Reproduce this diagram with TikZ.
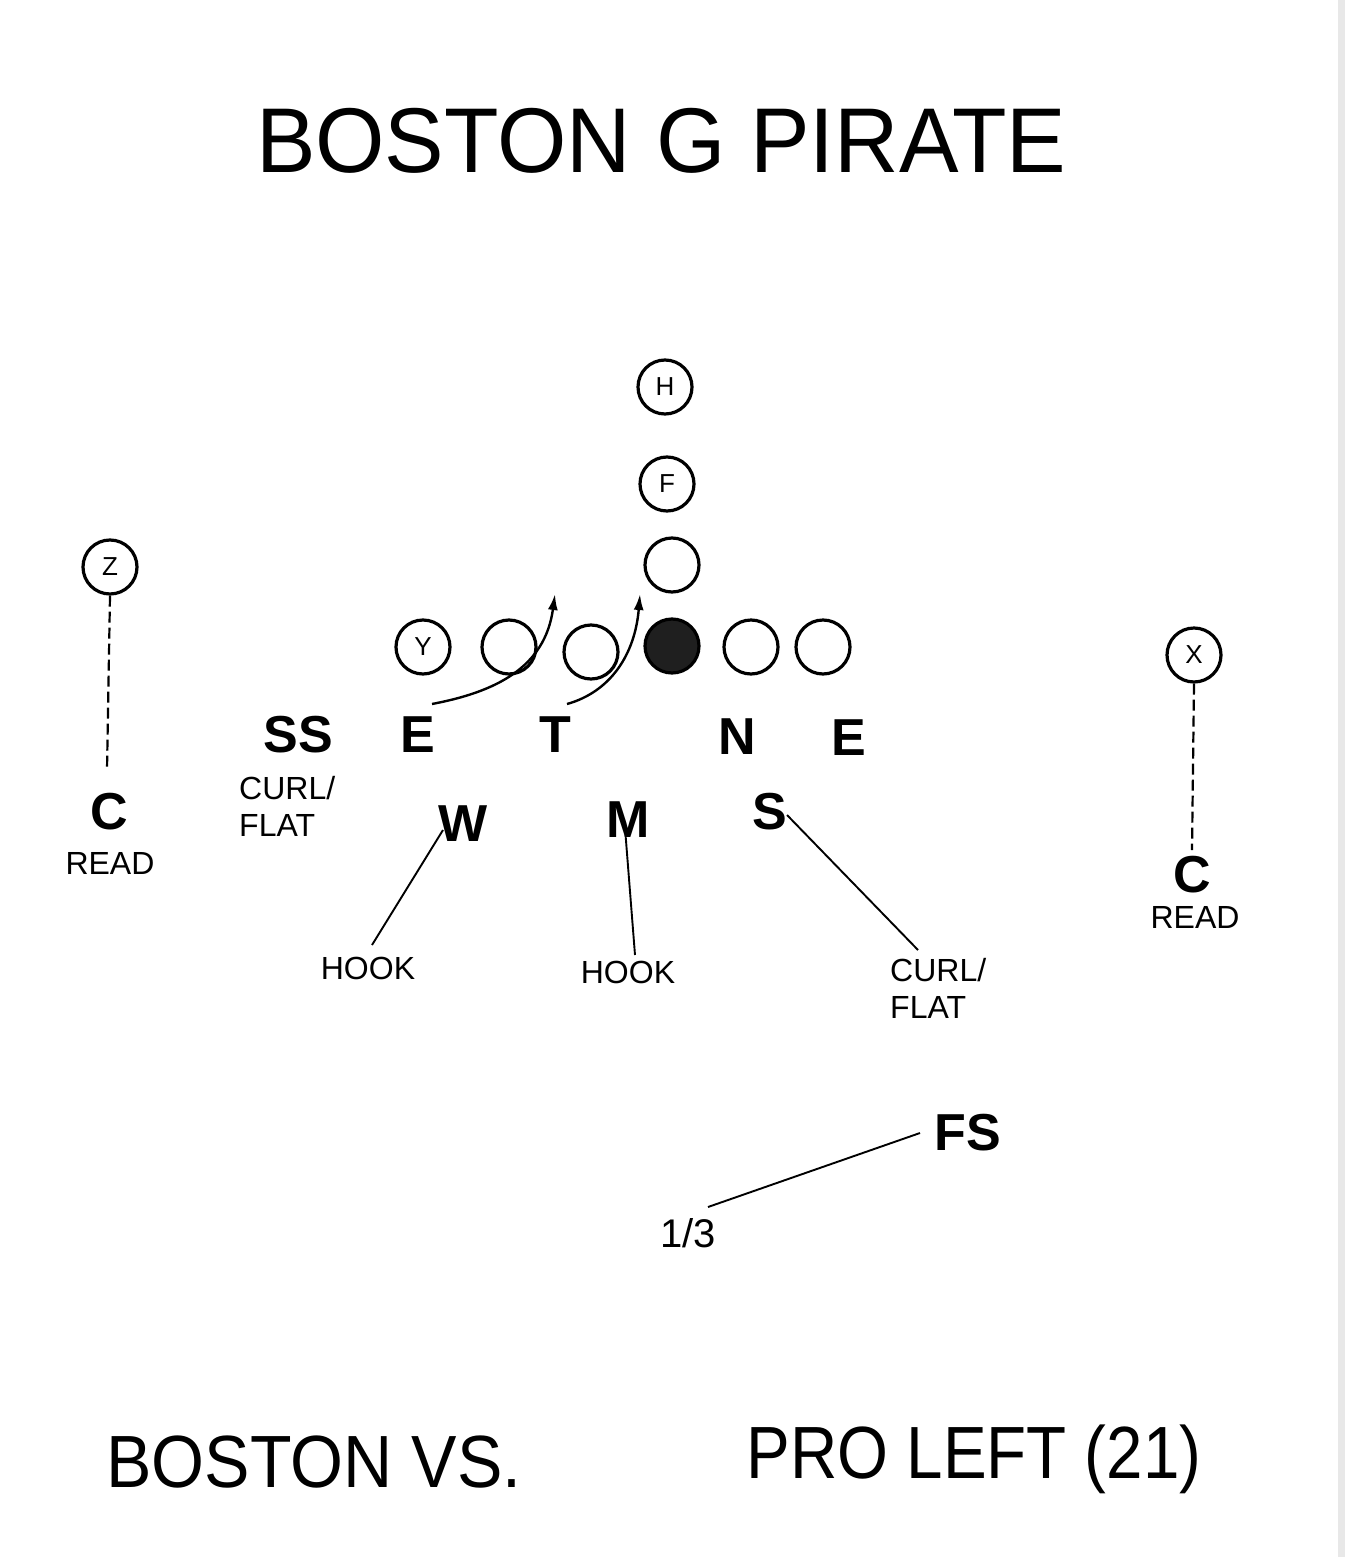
\documentclass[tikz,border=0pt]{standalone}
\usepackage{graphicx}
\usepackage{fontspec}
\setmainfont{Liberation Sans}
\usetikzlibrary{arrows.meta}
\begin{document}
\begin{tikzpicture}[x=1pt,y=-1pt,
 player/.style={circle,draw,line width=3.2pt,minimum size=54pt,inner sep=0pt,font=\fontsize{26}{26}\selectfont},
 defl/.style={inner sep=0pt,font=\fontsize{52}{52}\selectfont\bfseries},
 lbl/.style={inner sep=0pt,font=\fontsize{32}{37}\selectfont},
 big/.style={inner sep=0pt},
 conn/.style={line width=1.9pt},
 route/.style={line width=2.4pt,-{Latex[length=16pt,width=10pt]}},
 readline/.style={line width=2.2pt,dash pattern=on 11pt off 5pt}]
\useasboundingbox (0,0) rectangle (1345,1557);
\fill[white] (0,0) rectangle (1345,1557);
\fill[gray!18] (1338,0) rectangle (1345,1557);

% title
\node[big] (title) at (661,141) {\scalebox{0.97}[1]{\fontsize{92}{92}\selectfont BOSTON G PIRATE}};

% offense
\node[player] (H) at (665,387) {H};
\node[player] (F) at (667,484) {F};
\node[player] (Q) at (672,565) {};
\node[player] (Y) at (423,647) {Y};
\node[player] (L1) at (509,647) {};
\node[player] (L2) at (591,652) {};
\node[player,fill=black!88] (Cn) at (672,646) {};
\node[player] (R1) at (751,647) {};
\node[player] (R2) at (823,647) {};
\node[player] (Z) at (110,567) {Z};
\node[player] (X) at (1194,655) {X};

% defense
\node[defl] (SS) at (298,735) {SS};
\node[defl] (E1) at (418,735) {E};
\node[defl] (T) at (555,735) {T};
\node[defl] (N) at (737,737) {N};
\node[defl] (E2) at (849,738) {E};
\node[defl] (W) at (463,824) {W};
\node[defl] (M) at (628,820) {M};
\node[defl] (S) at (770,812) {S};
\node[defl] (CL) at (109,812) {C};
\node[defl] (CR) at (1192,875) {C};
\node[defl] (FS) at (968,1133) {FS};

% labels
\node[lbl,align=left,anchor=north west] (cfL) at (239,776) {CURL/\\FLAT};
\node[lbl] (readL) at (110,863) {READ};
\node[lbl] (readR) at (1195,917) {READ};
\node[lbl] (hook1) at (368,968) {HOOK};
\node[lbl] (hook2) at (628,972) {HOOK};
\node[lbl,align=left,anchor=north west] (cfR) at (890,958) {CURL/\\FLAT};
\node[inner sep=0pt,font=\fontsize{40}{40}\selectfont] (third) at (688,1233) {1/3};

% bottom
\node[big] (bv) at (314,1462) {\scalebox{0.92}[1]{\fontsize{74}{74}\selectfont BOSTON VS.}};
\node[big] (pl) at (974,1459) {\scalebox{0.885}[1]{\fontsize{74}{74}\selectfont PRO LEFT (21)}};

% routes
\coordinate (a1s) at (432,704);
\coordinate (a1e) at (555,594);
\coordinate (a2s) at (567,704);
\coordinate (a2e) at (640,594);
\draw[route] (a1s) .. controls (495,692) and (545,668) .. (a1e);
\draw[route] (a2s) .. controls (610,692) and (635,655) .. (a2e);

% read lines
\coordinate (zend) at (107,770);
\coordinate (xend) at (1192,850);
\draw[readline] (Z.south) -- (zend);
\draw[readline] (X.south) -- (xend);

% zone connectors
\coordinate (wa) at (443,830);
\coordinate (wb) at (372,945);
\coordinate (ma) at (625,828);
\coordinate (mb) at (635,955);
\coordinate (sa) at (787,815);
\coordinate (sb) at (918,950);
\coordinate (fa) at (920,1133);
\coordinate (fb) at (708,1207);
\draw[conn] (wa) -- (wb);
\draw[conn] (ma) -- (mb);
\draw[conn] (sa) -- (sb);
\draw[conn] (fa) -- (fb);
\end{tikzpicture}
\end{document}
